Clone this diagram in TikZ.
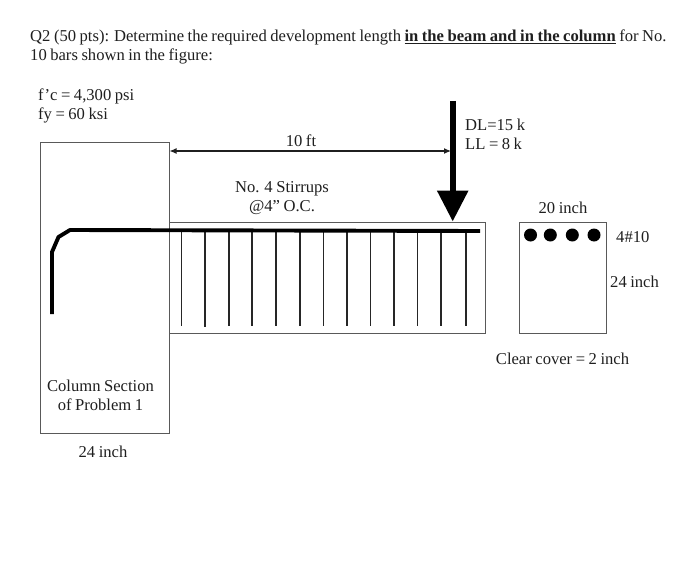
\documentclass[tikz,border=0pt]{standalone}
\usepackage{fontspec}
\setmainfont[WordSpace=0.85]{Liberation Serif}
\usetikzlibrary{arrows.meta}
\definecolor{ink}{gray}{0.12}
\definecolor{edge}{gray}{0.35}
\tikzset{
  x=1pt,y=-1pt,
  lab/.style={font=\fontsize{16.6}{19}\selectfont,text=ink,inner sep=0pt,align=center},
  labl/.style={lab,anchor=west,align=left},
  memberbox/.style={draw=edge,line width=0.9pt,fill=none},
  stirrup/.style={draw=black!85,line width=1.8pt},
  rebar/.style={draw=black,line width=3.9pt,line join=round},
  dot/.style={circle,fill=black,minimum size=13pt,inner sep=0pt},
}
\begin{document}
\begin{tikzpicture}
\useasboundingbox (0,0) rectangle (700,575);
\node[labl,anchor=north west] (title) at (30,29.5)
  {Q2 (50 pts): Determine the required development length \textbf{\underline{in the beam and in the column}} for No.\\10 bars shown in the figure:};
\node[labl,anchor=north west] (props) at (38,88.5) {f’c = 4,300 psi\\fy = 60 ksi};

\node[memberbox,minimum width=129pt,minimum height=291pt,inner sep=0pt] (column) at (104.5,287.5) {};
\node[memberbox,minimum width=316pt,minimum height=111pt,inner sep=0pt] (beam) at (327,277.5) {};
\node[memberbox,minimum width=87pt,minimum height=111pt,inner sep=0pt] (section) at (562.5,277.5) {};

\foreach \x/\yb in {181.5/326,205.3/327,229/326,252.3/326,276/326,300/326,323.5/326,347/326,370.5/326,394/326,417.5/326,441.3/326,466/326}
  \draw[stirrup] (\x,231) -- (\x,\yb);

\coordinate (hookend) at (52,314);
\coordinate (hooka) at (52,252);
\coordinate (hookb) at (58.5,237);
\coordinate (hookc) at (70,230);
\coordinate (barend) at (480,231);
\draw[rebar] (hookend) -- (hooka) -- (hookb) -- (hookc) -- (barend);

\coordinate (loadtop) at (452.7,101);
\coordinate (loadtip) at (452.7,221.5);
\draw[draw=black,line width=6pt,-{Triangle[length=31pt,width=30pt]}] (loadtop) -- (loadtip);

\coordinate (dimr) at (451,151);
\coordinate (diml) at (169.5,151);
\draw[draw=ink,line width=1.1pt,{Latex[length=7pt,width=6pt]}-{Latex[length=7pt,width=6pt]}] (diml) -- (dimr);

\node[dot] (b1) at (530.5,235) {};
\node[dot] (b2) at (550.3,235) {};
\node[dot] (b3) at (572.3,235) {};
\node[dot] (b4) at (594,235) {};

\node[lab] (span) at (301,141) {10 ft};
\node[labl] (dl) at (465,125) {DL=15 k};
\node[labl] (ll) at (465,144) {LL = 8 k};
\node[lab] (stir) at (282,198) {No. 4 Stirrups\\@4” O.C.};
\node[lab] (w) at (563,208) {20 inch};
\node[labl] (n) at (616,237) {4\#10};
\node[labl] (h) at (610,282) {24 inch};
\node[lab] (cover) at (562.5,358.5) {Clear cover = 2 inch};
\node[lab] (colsec) at (100.5,395) {Column Section\\of Problem 1};
\node[lab] (colw) at (103,452) {24 inch};
\end{tikzpicture}
\end{document}
